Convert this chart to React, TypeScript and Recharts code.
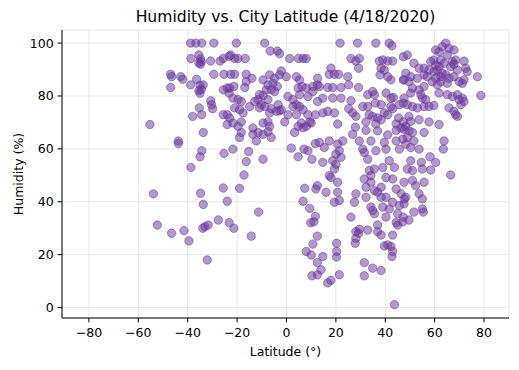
import { ScatterChart, Scatter, XAxis, YAxis, CartesianGrid } from 'recharts';

// latitude / humidity readings, grouped by region of the plot
const latSouthHigh = [-38.8, -36.7, -34.3, -29.4, -38.7, -35.5, -34.8, -35.5, -34.5, -34.8, -30.7, -26.9, -25.6, -23.2, -46.9, -46.5, -42.8, -42, -46.9, -38.8, -36.4, -35, -34.5, -35.5, -35, -33.7, -29.4, -25.3, -25.6, -24, -23.2, -30.7, -30.3, -29.9, -35.3, -34.3, -38, -55.3, -25.6, -24, -24];
const humSouthHigh = [100, 100, 100, 100, 94.2, 95.5, 94, 92.5, 93, 92, 93.2, 93.2, 94.2, 95, 88.2, 87.3, 87.3, 86.3, 83.2, 84.2, 86.3, 84, 82.5, 82, 81, 84.2, 88.2, 88.2, 82.3, 83, 81.1, 78.2, 76.7, 75.2, 75.5, 72.9, 72.3, 69.2, 72.9, 72.9, 69.2];

const latSouthLow = [-33.7, -43.8, -43.8, -34.3, -35, -25.3, -38.7, -53.9, -34.8, -33.7, -25.6, -24, -52.3, -46.5, -41.5, -39.5, -33.9, -33, -31.7, -27.6, -23.2, -32.1, -21.3, -14.3, -11.3, -19, -17.2, -16.3, -9.5, -15.3, -21.7, -18.3, -13.6, -11.5, -9.5, -7.5, -6.2, -19, -12.2];
const humSouthLow = [66.2, 63, 62, 59.3, 57, 58.3, 53, 43, 43.2, 39, 45.2, 40.2, 31.2, 28.1, 29.1, 25.2, 30, 30.6, 31.2, 33.1, 32.1, 18, 30, 27, 36.1, 45.1, 50.1, 55.2, 56.1, 59, 59.9, 66.2, 65.5, 66.2, 65.5, 66.5, 64.3, 64.3, 63];

const latTropics = [-20.3, -8.8, -6.6, -3.7, -2.8, -22.6, -21, -19.6, -16.7, 1.3, 4.9, 6.7, 8, -21, -22.6, -16.3, -14, -16.3, -16.9, -9.5, -6.8, -4.8, -2.8, -2.1, -7.5, -5.5, -3.7, -8.2, -6.2, -4.8, -10.9, -9.5, -11.5, -10.2, -8.8, -7.5, -6.2, -2.8, -3.4, 0.6, 2.6, 4.7, 6.3, 8, 5.3, 8.7, 10.7, 12.5, 10.7, -0.1, 4, 5.3, 4, 5.3, 6.7, 8.7, 11.7, 9.4, -23, -21.3, -21.7, -19.6, -18.3, -21, -19, -17.6, -23, -21.7, -18.3, -19.6, -13.6, -9.5, -7.5, -6.8, -0.7, 4.7, 6, 8, 10, -14.9, -12.9, -10.9, -6.8, -4.1, -2.1, 0.6, 2.6, 4];
const humTropics = [100, 100, 97, 97, 96, 95.5, 94.2, 94.2, 94.2, 94.2, 94.2, 94.2, 94.2, 88.2, 88.2, 88.2, 86.7, 85.4, 83.2, 86.1, 88, 86.7, 88, 89.5, 84.2, 84.8, 83.6, 82.3, 82.3, 81.7, 80.5, 80.2, 78.6, 76.7, 76, 78.6, 75.2, 74.4, 76.7, 79.8, 78.6, 83, 83.6, 83, 80.5, 79.8, 83.6, 84.2, 81.7, 87.3, 87.3, 86.1, 76.7, 76, 74.8, 72.9, 72.9, 70.2, 83, 83.6, 79.2, 78.6, 77.9, 75.5, 74.8, 73.6, 71.7, 69.8, 70.2, 68.5, 67.9, 69.8, 70.2, 68.5, 70.2, 68.5, 69.8, 68.5, 69.8, 76, 77.9, 75.5, 73.6, 74.2, 74.8, 72.9, 76, 72.9];

const latEquator = [3.3, 6.7, 1.9, 4.7, 7.1, 8.7, 10.3, 11.7, 7.4, 6.7, 9.4, 11.7, 12.5, 9.8, 11.1, 12.5, 10.7, 8, 10, 12.5, 10.3, 12.5];
const humEquator = [66.2, 68, 60.3, 57, 59.9, 59.3, 56.1, 62, 45.1, 40.2, 37.5, 34.5, 46.1, 32.1, 32.4, 27, 24, 21.2, 19.9, 17, 12, 12.4];

const latNorthHigh = [21.7, 28.8, 36.2, 41.6, 42.7, 26.1, 28.1, 29.5, 29.2, 37.6, 39, 41, 43, 47.3, 38.3, 39.6, 37.9, 41, 42.3, 47.3, 18, 17.3, 19.4, 21.1, 24.8, 12.6, 13.3, 16.7, 18.7, 22.1, 25.2, 29.2, 14.7, 18.7, 22.1, 26.1, 32.9, 34.9, 35.6, 40.3, 42.3, 43.3, 12.6, 14.7, 16.7, 19.4, 25.2, 26.8, 28.1, 30.9, 32.9, 36, 38.3, 42.3, 45.7, 47.3, 33.5, 34.9, 36.9, 39.6, 41, 43, 45.4, 47.3, 20.7, 27.9, 32.2, 36.2, 38.3, 44.4, 46.4];
const humNorthHigh = [100, 100, 100, 100, 99, 94.2, 93.2, 94.2, 90.5, 93.2, 93.6, 93.2, 93.2, 94.8, 90.5, 89.8, 88, 87.3, 86.1, 86.1, 90.5, 88.2, 88.2, 88.2, 87.3, 86.7, 83.6, 83.2, 83.2, 83.2, 84.2, 83.2, 79.2, 79.2, 79.2, 78.2, 80.5, 81.7, 80.5, 81.1, 79.2, 79.4, 77.9, 73.6, 74.2, 73.6, 75.2, 73.6, 72.3, 76, 76, 77.3, 76.7, 76, 76.7, 77.3, 72.9, 72.3, 71.7, 73.6, 72.9, 75.2, 71.7, 70.2, 69.4, 68.2, 70.2, 69.4, 71, 69.4, 67.9];

const latFarNorth = [64.5, 63.1, 65.8, 67.8, 60.4, 61.8, 59.7, 62.5, 65.1, 67.2, 68.5, 58.4, 60.4, 61.8, 63.8, 66.5, 67.8, 71.9, 48.9, 51.6, 53.7, 55.7, 57.7, 59.7, 61.1, 63.1, 69.2, 72.6, 73.2, 48.3, 50.3, 53, 55.7, 57, 77.3, 59, 60.4, 62.5, 64.5, 65.8, 67.8, 69.9, 71.2, 71.9, 47.6, 49.6, 55.7, 61.1, 62.5, 65.1, 51, 50.3, 53.7, 54.4, 55, 56.4, 61.8, 65.1, 67.2, 69.2, 69.9, 71.2, 78.7, 47.6, 48.9, 51, 53, 55.7, 57.7, 59.7, 70.6, 71.9, 65.8, 67.8, 68.5, 69.2, 49.6, 50.3, 53.7, 57.7, 61.8, 48.3];
const humFarNorth = [100, 98.6, 98, 97.4, 97.4, 96.7, 93.6, 93.6, 95.5, 93, 93.6, 93, 91.7, 91.1, 92.4, 91.1, 92, 93.2, 95.5, 92.4, 90.5, 90.5, 89.8, 89.2, 89.8, 88.6, 89.8, 90.5, 89.2, 88.6, 87.3, 86.7, 88, 87.3, 87.3, 85.4, 86.7, 87.3, 88, 86.7, 87.3, 85.4, 84.8, 86.1, 86.1, 85.4, 83.6, 84.2, 85.4, 84.8, 83, 81.1, 82.3, 80.5, 79.2, 78.6, 81.1, 80.5, 79.8, 80.5, 78.6, 79.2, 80.2, 79.2, 76.7, 76, 75.5, 76, 76, 76.4, 76.7, 77.9, 75.5, 74.2, 72.9, 72.3, 72.3, 70.4, 71, 70.2, 69.2, 68.5];

const latNorthMid = [26.8, 32.2, 36.9, 41, 44.4, 13.3, 17.3, 20.7, 22.8, 15.3, 21.4, 20, 29.5, 34.2, 39.6, 44.4, 45.7, 47.1, 30.9, 31.5, 32.9, 36.2, 40.3, 41.6, 43.7, 39, 14.7, 18.7, 20, 22.1, 19.4, 17.3, 18, 20.7, 11.9, 16, 20.7, 21.4, 19.4, 27.5, 32.2, 34.2, 34.9, 35.6, 40.3, 31.5, 32.2, 34.2, 35.6, 36.9, 38.3, 40.3, 43, 44.4, 46.4, 38.3, 40.3, 43, 45.7, 47.7, 39, 41.6, 45, 47.3, 26.1, 28.1, 33.5, 34.2, 35.6];
const humNorthMid = [65.5, 67, 66.8, 65.3, 67, 62.4, 63, 61.8, 63, 60.5, 59.3, 58, 63, 63, 62.4, 63, 59.9, 63.7, 59.9, 58.6, 56.1, 59.3, 59.9, 55.5, 53, 53, 54.9, 55.5, 54.2, 56.8, 52.4, 49.9, 49.2, 47.4, 44.8, 43.6, 43.6, 40.5, 39.8, 39.8, 41.7, 38, 36.7, 35.5, 34.2, 48.6, 45.5, 47.4, 44.2, 43.6, 45.5, 49.2, 48.6, 44.8, 43, 41.7, 41.7, 39.8, 38.6, 41.1, 38, 37.3, 35.5, 34.2, 34.2, 43, 51.8, 49.9, 52.4];

const latNorthEast = [47.6, 49.6, 51, 48.9, 51.6, 48.3, 50.3, 53.7, 55.7, 63.8, 63.5, 58.1, 60.4, 50.3, 54.6, 55, 58.4, 66.5, 48.9, 51, 47.6, 51, 52.3, 55.7, 53.7, 55, 48.3, 47.6, 51.6, 55, 55.4, 49.6];
const humNorthEast = [67.4, 66.8, 66.2, 64.3, 63, 61.8, 60.5, 59.9, 66.2, 63, 59.9, 57, 54.9, 55.5, 54.9, 52.4, 52, 50.1, 52.4, 51.8, 47.4, 48.1, 46.1, 47.4, 43, 41.1, 41.7, 39.2, 36.1, 37.3, 36.1, 33.1];

const latNorthLow = [14.7, 14, 16.7, 18, 21.4, 20.3, 20.3, 20.3, 28.1, 29.2, 29.5, 28.1, 27.8, 32.9, 36.9, 36.9, 38.3, 43, 44.4, 45, 47.1, 39.6, 41, 42.3, 43, 42.7, 31.5, 31.5, 34.9, 38.3, 43.7];
const humNorthLow = [19.3, 14.3, 9.3, 10.3, 12.4, 24.3, 21.2, 19.1, 28.7, 28.1, 29.6, 26.2, 24.3, 29.3, 31.2, 28.7, 27.4, 27.4, 32.1, 31.2, 32.4, 23.3, 23.7, 23.1, 21.2, 19.3, 17, 12, 14.9, 14, 1.1];

const xTicks = [-80, -60, -40, -20, 0, 20, 40, 60, 80];
const yTicks = [0, 20, 40, 60, 80, 100];

const latitudes = [...latSouthHigh, ...latSouthLow, ...latTropics, ...latEquator, ...latNorthHigh, ...latFarNorth, ...latNorthMid, ...latNorthEast, ...latNorthLow];
const humidities = [...humSouthHigh, ...humSouthLow, ...humTropics, ...humEquator, ...humNorthHigh, ...humFarNorth, ...humNorthMid, ...humNorthEast, ...humNorthLow];
const cities = latitudes.map((lat, i) => ({ lat, hum: humidities[i] }));

const font = '"DejaVu Sans", sans-serif';
const fmt = (v: number) => String(v).replace('-', '\u2212');
const tickStyle = { fill: '#000', fontSize: 12.5, fontFamily: font };

const Dot = (props: any) => (
    <circle cx={props.cx} cy={props.cy} r={4.2} fill="#663399" fillOpacity={0.5} stroke="#663399" strokeOpacity={0.5} strokeWidth={1} />
);

export default function App() {
    return (
        <div style={{ position: 'absolute', left: 0, top: 0, width: 519, height: 370, background: '#fff', fontFamily: font }}>
            <div style={{ position: 'absolute', left: 62, width: 447, top: 8, textAlign: 'center', fontSize: 15.6, color: '#000' }}>
                Humidity vs. City Latitude (4/18/2020)
            </div>
            <ScatterChart width={519} height={370} margin={{ top: 30, right: 10, bottom: 0, left: 0 }}>
                <CartesianGrid stroke="#e8e8e8" strokeWidth={1} />
                <XAxis type="number" dataKey="lat" domain={[-90.9, 90.1]} ticks={xTicks} height={52}
                    tickFormatter={fmt} tick={tickStyle} tickSize={4.4} tickMargin={6}
                    stroke="#000" tickLine={{ stroke: '#000' }} axisLine={{ stroke: '#000' }} />
                <YAxis type="number" dataKey="hum" domain={[-3.95, 104.95]} ticks={yTicks} width={62}
                    tick={tickStyle} tickSize={4.4} tickMargin={4}
                    stroke="#000" tickLine={{ stroke: '#000' }} axisLine={{ stroke: '#000' }} />
                <XAxis xAxisId="top" orientation="top" type="number" dataKey="lat" domain={[-90.9, 90.1]} height={0}
                    tick={false} tickLine={false} axisLine={{ stroke: '#000' }} />
                <YAxis yAxisId="right" orientation="right" type="number" dataKey="hum" domain={[-3.95, 104.95]} width={0}
                    tick={false} tickLine={false} axisLine={{ stroke: '#000' }} />
                <Scatter data={cities} shape={Dot} isAnimationActive={false} />
            </ScatterChart>
            <div style={{ position: 'absolute', left: 62, width: 447, top: 344, textAlign: 'center', fontSize: 12.5, color: '#000' }}>
                Latitude (°)
            </div>
            <div style={{ position: 'absolute', left: 18, top: 174, transform: 'translate(-50%, -50%) rotate(-90deg)', whiteSpace: 'nowrap', fontSize: 12.5, color: '#000' }}>
                Humidity (%)
            </div>
        </div>
    );
}
